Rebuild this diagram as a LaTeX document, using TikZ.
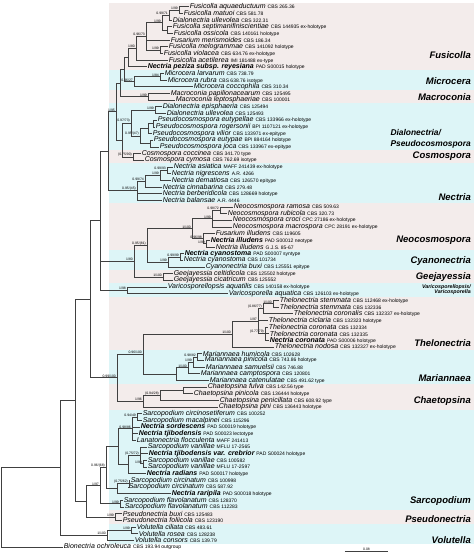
\documentclass[tikz,border=0pt]{standalone}
\usepackage{fontspec}
\setmainfont{Liberation Sans}
\usetikzlibrary{calc}
\definecolor{pinkb}{HTML}{F3ECEB}
\definecolor{cyanb}{HTML}{DDF5F7}
\definecolor{brc}{HTML}{404040}
\newcommand\acc[1]{{\fontsize{5}{5}\selectfont\upshape\mdseries #1}}
\newcommand\tx[2]{{\itshape #1}\hspace{2pt}\acc{#2}}
\newcommand\tb[2]{{\bfseries\itshape #1}\hspace{2pt}\acc{#2}}
\newcommand\nd[5]{\path let \p1=(#3), \p2=(#4) in coordinate (#1) at (#2pt,{0.5*\y1+0.5*\y2}); \node[sup] (l#1) at (#1) {#5};}
\newcommand\lf[3]{\node[leaf] (t#1) at (#2,#1) {#3};}
\newcommand\ed[2]{\foreach \c in {#2} {\draw[br] (#1) |- (\c);}}
\tikzset{
 leaf/.style={anchor=west, inner sep=0.6pt, font=\fontsize{7}{7}\selectfont},
 sup/.style={anchor=south east, inner sep=0.2pt, xshift=-0.8pt, font=\fontsize{3.4}{3.4}\selectfont},
 br/.style={draw=brc, line width=0.45pt},
 clade/.style={anchor=east, inner sep=0pt, font=\fontsize{9.5}{9.5}\selectfont\bfseries\itshape},
 cladesm/.style={anchor=east, inner sep=0pt, font=\fontsize{8.4}{8.4}\selectfont\bfseries\itshape}
}
\begin{document}
\begin{tikzpicture}[x=1pt, y=-6.67pt]
\useasboundingbox (0,0) rectangle (474,83.66);
% bands
\fill[pinkb] (109,0.5) rectangle (474,10.5);
\fill[cyanb] (109,10.5) rectangle (474,13.5);
\fill[pinkb] (109,13.5) rectangle (474,15.5);
\fill[cyanb] (109,15.5) rectangle (474,22.5);
\fill[pinkb] (109,22.5) rectangle (474,24.5);
\fill[cyanb] (109,24.5) rectangle (474,30.5);
\fill[pinkb] (109,30.5) rectangle (474,37.5);
\fill[cyanb] (109,37.5) rectangle (474,40.5);
\fill[pinkb] (109,40.5) rectangle (474,42.5);
\fill[cyanb] (109,42.5) rectangle (474,44.5);
\fill[pinkb] (109,44.5) rectangle (474,52.5);
\fill[cyanb] (109,52.5) rectangle (474,57.5);
\fill[pinkb] (109,57.5) rectangle (474,61.5);
\fill[cyanb] (109,61.5) rectangle (474,76.5);
\fill[pinkb] (109,76.5) rectangle (474,78.5);
\fill[cyanb] (109,78.5) rectangle (474,81.5);
% leaves
\lf{1}{189}{\tx{Fusicolla aquaeductuum}{CBS 265.36}}
\lf{2}{183}{\tx{Fusicolla matuoi}{CBS 581.78}}
\lf{3}{172}{\tx{Dialonectria ullevolea}{CBS 322.31}}
\lf{4}{172}{\tx{Fusicolla septimanifiniscientiae}{CBS 144935 ex-holotype}}
\lf{5}{173}{\tx{Fusicolla ossicola}{CBS 140161 holotype}}
\lf{6}{170}{\tx{Fusarium merismoides}{CBS 186.34}}
\lf{7}{168}{\tx{Fusicolla melogrammae}{CBS 141092 holotype}}
\lf{8}{163}{\tx{Fusicolla violacea}{CBS 634.76 ex-holotype}}
\lf{9}{168}{\tx{Fusicolla acetilerea}{IMI 181488 ex-type}}
\lf{10}{147}{\tb{Nectria peziza subsp. reyesiana}{PAD S00015 holotype}}
\lf{11}{164}{\tx{Microcera larvarum}{CBS 738.79}}
\lf{12}{167}{\tx{Microcera rubra}{CBS 638.76 isotype}}
\lf{13}{193}{\tx{Microcera coccophila}{CBS 310.34}}
\lf{14}{170}{\tx{Macroconia papilionacearum}{CBS 125495}}
\lf{15}{175}{\tx{Macroconia leptosphaeriae}{CBS 100001}}
\lf{16}{162}{\tx{Dialonectria episphaeria}{CBS 125494}}
\lf{17}{166}{\tx{Dialonectria ullevolea}{CBS 125493}}
\lf{18}{157}{\tx{Pseudocosmospora eutypellae}{CBS 133966 ex-holotype}}
\lf{19}{155}{\tx{Pseudocosmospora rogersonii}{BPI 1107121 ex-holotype}}
\lf{20}{152}{\tx{Pseudocosmospora vilior}{CBS 133971 ex-epitype}}
\lf{21}{153}{\tx{Pseudocosmospora eutypae}{BPI 884164 holotype}}
\lf{22}{159}{\tx{Pseudocosmospora joca}{CBS 133967 ex-epitype}}
\lf{23}{141}{\tx{Cosmospora coccinea}{CBS 341.70 type}}
\lf{24}{144}{\tx{Cosmospora cymosa}{CBS 762.69 isotype}}
\lf{25}{173}{\tx{Nectria asiatica}{MAFF 241439 ex-holotype}}
\lf{26}{171}{\tx{Nectria nigrescens}{A.R. 4266}}
\lf{27}{171}{\tx{Nectria dematiosa}{CBS 126570 epitype}}
\lf{28}{162}{\tx{Nectria cinnabarina}{CBS 279.48}}
\lf{29}{162}{\tx{Nectria berberidicola}{CBS 128669 holotype}}
\lf{30}{162}{\tx{Nectria balansae}{A.R. 4446}}
\lf{31}{233}{\tx{Neocosmospora ramosa}{CBS 509.63}}
\lf{32}{227}{\tx{Neocosmospora rubicola}{CBS 320.73}}
\lf{33}{232}{\tx{Neocosmospora croci}{CPC 27186 ex-holotype}}
\lf{34}{232}{\tx{Neocosmospora macrospora}{CPC 28191 ex-holotype}}
\lf{35}{215}{\tx{Fusarium illudens}{CBS 119605}}
\lf{36}{210}{\tb{Nectria illudens}{PAD S00012 neotype}}
\lf{37}{215}{\tx{Nectria illudens}{G.J.S. 85-67}}
\lf{38}{184}{\tb{Nectria cyanostoma}{PAD S00007 syntype}}
\lf{39}{183}{\tx{Nectria cyanostoma}{CBS 101734}}
\lf{40}{205}{\tx{Cyanonectria buxi}{CBS 125551 epitype}}
\lf{41}{173}{\tx{Geejayessia celtidicola}{CBS 125502 holotype}}
\lf{42}{173}{\tx{Geejayessia cicatricum}{CBS 125552}}
\lf{43}{167}{\tx{Varicosporellopsis aquatilis}{CBS 140158 ex-holotype}}
\lf{44}{228}{\tx{Varicosporella aquatica}{CBS 126103 ex-holotype}}
\lf{45}{279}{\tx{Thelonectria stemmata}{CBS 112468 ex-holotype}}
\lf{46}{279}{\tx{Thelonectria stemmata}{CBS 132336}}
\lf{47}{293}{\tx{Thelonectria coronalis}{CBS 132337 ex-holotype}}
\lf{48}{268}{\tx{Thelonectria ciclaria}{CBS 132323 holotype}}
\lf{49}{268}{\tx{Thelonectria coronata}{CBS 132334}}
\lf{50}{269}{\tx{Thelonectria coronata}{CBS 132335}}
\lf{51}{269}{\tb{Nectria coronata}{PAD S00006 holotype}}
\lf{52}{274}{\tx{Thelonectria nodosa}{CBS 132327 ex-holotype}}
\lf{53}{202}{\tx{Mariannaea humicola}{CBS 102628}}
\lf{54}{204}{\tx{Mariannaea pinicola}{CBS 743.86 holotype}}
\lf{55}{205}{\tx{Mariannaea samuelsii}{CBS 746.88}}
\lf{56}{200}{\tx{Mariannaea camptospora}{CBS 120801}}
\lf{57}{209}{\tx{Mariannaea catenulatae}{CBS 491.62 type}}
\lf{58}{207}{\tx{Chaetopsina fulva}{CBS 142.56 type}}
\lf{59}{193}{\tx{Chaetopsina pinicola}{CBS 136444 holotype}}
\lf{60}{219}{\tx{Chaetopsina penicillata}{CBS 608.92 type}}
\lf{61}{218}{\tx{Chaetopsina pini}{CBS 136443 holotype}}
\lf{62}{142}{\tx{Sarcopodium circinosetiferum}{CBS 100252}}
\lf{63}{142}{\tx{Sarcopodium macalpinei}{CBS 115296}}
\lf{64}{140}{\tb{Nectria sordescens}{PAD S00019 holotype}}
\lf{65}{138}{\tb{Nectria tjibodensis}{PAD S00023 lectotype}}
\lf{66}{136}{\tx{Lanatonectria flocculenta}{MAFF 241413}}
\lf{67}{147}{\tx{Sarcopodium vanillae}{MFLU 17-2565}}
\lf{68}{148}{\tb{Nectria tjibodensis var. crebrior}{PAD S00024 holotype}}
\lf{69}{147}{\tx{Sarcopodium vanillae}{CBS 100582}}
\lf{70}{147}{\tx{Sarcopodium vanillae}{MFLU 17-2597}}
\lf{71}{146}{\tb{Nectria radians}{PAD S00017 holotype}}
\lf{72}{130}{\tx{Sarcopodium circinatum}{CBS 100998}}
\lf{73}{128}{\tx{Sarcopodium circinatum}{CBS 587.92}}
\lf{74}{171}{\tb{Nectria raripila}{PAD S00018 holotype}}
\lf{75}{123}{\tx{Sarcopodium flavolanatum}{CBS 128370}}
\lf{76}{124}{\tx{Sarcopodium flavolanatum}{CBS 112283}}
\lf{77}{122}{\tx{Pseudonectria buxi}{CBS 125483}}
\lf{78}{122}{\tx{Pseudonectria foliicola}{CBS 123190}}
\lf{79}{136}{\tx{Volutella ciliata}{CBS 483.61}}
\lf{80}{138}{\tx{Volutella rosea}{CBS 128238}}
\lf{81}{134}{\tx{Volutella consors}{CBS 139.79}}
\lf{82}{63}{\tx{Bionectria ochroleuca}{CBS 193.94 outgroup}}
% internal nodes
\nd{fa}{179}{t1.west}{t2.west}{1/99} \ed{fa}{t1.west,t2.west}
\nd{fb}{169}{fa}{t3.west}{0.99/71} \ed{fb}{fa,t3.west}
\nd{fc}{167}{t4.west}{t5.west}{} \ed{fc}{t4.west,t5.west}
\nd{fd}{162}{fb}{fc}{1/99} \ed{fd}{fb,fc}
\nd{fg}{160}{t7.west}{t8.west}{1/99} \ed{fg}{t7.west,t8.west}
\nd{fe}{146}{fd}{fg}{0.96/73} \ed{fe}{fd,t6.west,fg}
\nd{ff}{136}{fe}{t9.west}{1/80} \ed{ff}{fe,t9.west}
\nd{F}{128}{ff}{t10.west}{} \ed{F}{ff,t10.west}
\nd{ma}{160}{t11.west}{t12.west}{1/84} \ed{ma}{t11.west,t12.west}
\nd{M}{134}{ma}{t13.west}{0.96/27} \ed{M}{ma,t13.west}
\nd{FM}{124}{F}{M}{} \ed{FM}{F,M}
\nd{mc}{148}{t14.west}{t15.west}{1/99} \ed{mc}{t14.west,t15.west}
\nd{FMM}{120}{FM}{mc}{} \ed{FMM}{FM,mc}
\nd{d1}{155}{t16.west}{t17.west}{1/99} \ed{d1}{t16.west,t17.west}
\nd{p1}{153}{t18.west}{t19.west}{} \ed{p1}{t18.west,t19.west}
\nd{p2}{148}{p1}{t20.west}{} \ed{p2}{p1,t20.west}
\nd{p3}{150}{t21.west}{t22.west}{} \ed{p3}{t21.west,t22.west}
\nd{pp}{140}{p2}{p3}{0.95/(47)} \ed{pp}{p2,p3}
\nd{DP}{131}{d1}{pp}{(0.97/73)} \ed{DP}{d1,pp}
\nd{cs}{133}{t23.west}{t24.west}{(0.75/90)} \ed{cs}{t23.west,t24.west}
\nd{DC}{122}{DP}{cs}{} \ed{DC}{DP,cs}
\nd{UP}{116}{FMM}{DC}{1/95} \ed{UP}{FMM,DC}
\nd{n1}{167}{t25.west}{t26.west}{0.99/93} \ed{n1}{t25.west,t26.west}
\nd{n2}{160}{n1}{t27.west}{1/99} \ed{n2}{n1,t27.west}
\nd{n3}{145}{n2}{t28.west}{0.99/74} \ed{n3}{n2,t28.west}
\nd{N}{137}{n3}{t30.west}{0.95/(45)} \ed{N}{n3,t29.west,t30.west}
\nd{UN}{108}{UP}{N}{} \ed{UN}{UP,N}
\nd{ne1}{220}{t31.west}{t32.west}{0.98/72} \ed{ne1}{t31.west,t32.west}
\nd{ne2}{212}{ne1}{t34.west}{1/99} \ed{ne2}{ne1,t33.west,t34.west}
\nd{ne3}{206}{t36.west}{t37.west}{1/99} \ed{ne3}{t36.west,t37.west}
\nd{ne4}{203}{t35.west}{ne3}{0.96/98} \ed{ne4}{t35.west,ne3}
\nd{Ne}{192}{ne2}{ne4}{1/100} \ed{Ne}{ne2,ne4}
\nd{cy1}{180}{t38.west}{t39.west}{0.99/99} \ed{cy1}{t38.west,t39.west}
\nd{Cy}{168}{cy1}{t40.west}{1/99} \ed{Cy}{cy1,t40.west}
\nd{NC}{147}{Ne}{Cy}{0.95/(81)} \ed{NC}{Ne,Cy}
\nd{gj}{163}{t41.west}{t42.west}{1/100} \ed{gj}{t41.west,t42.west}
\nd{NCG}{134}{NC}{gj}{1/80} \ed{NCG}{NC,gj}
\nd{va}{127}{t43.west}{t44.west}{1/98} \ed{va}{t43.west,t44.west}
\nd{A}{100}{UN}{va}{} \ed{A}{UN,NCG,va}
\nd{th1}{273}{t45.west}{t46.west}{1/100} \ed{th1}{t45.west,t46.west}
\nd{th2}{263}{th1}{t47.west}{(0.86/77)} \ed{th2}{th1,t47.west}
\nd{th4}{265}{t49.west}{t51.west}{(0.77/79)} \ed{th4}{t49.west,t50.west,t51.west}
\nd{th3}{258}{th2}{th4}{1/97} \ed{th3}{th2,t48.west,th4}
\nd{TH}{232}{th3}{t52.west}{1/100} \ed{TH}{th3,t52.west}
\nd{mr1}{197}{t53.west}{t54.west}{0.98/82} \ed{mr1}{t53.west,t54.west}
\nd{mr2}{193}{mr1}{t55.west}{1/99} \ed{mr2}{mr1,t55.west}
\nd{mr3}{188}{mr2}{t56.west}{1/100} \ed{mr3}{mr2,t56.west}
\nd{MA}{176}{mr3}{t57.west}{} \ed{MA}{mr3,t57.west}
\nd{TM}{143}{TH}{MA}{0.96/100} \ed{TM}{TH,MA}
\nd{ch1}{183}{t58.west}{t59.west}{} \ed{ch1}{t58.west,t59.west}
\nd{ch2}{160}{ch1}{t60.west}{(0.94/28)} \ed{ch2}{ch1,t60.west}
\nd{CH}{143}{ch2}{t61.west}{1/96} \ed{CH}{ch2,t61.west}
\nd{TMC}{117}{TM}{CH}{0.99/100} \ed{TMC}{TM,CH}
\nd{U}{90}{A}{TMC}{} \ed{U}{A,TMC}
\nd{s1}{137}{t62.west}{t63.west}{0.94/49} \ed{s1}{t62.west,t63.west}
\nd{s2}{132}{s1}{t66.west}{0.98/86} \ed{s2}{s1,t64.west,t65.west,t66.west}
\nd{s4}{143}{t69.west}{t70.west}{1/99} \ed{s4}{t69.west,t70.west}
\nd{s5}{140}{t67.west}{s4}{(0.75/72)} \ed{s5}{t67.west,t68.west,s4}
\nd{s6}{128}{s5}{t71.west}{} \ed{s6}{s5,t71.west}
\nd{s10}{118}{s2}{s6}{} \ed{s10}{s2,s6}
\nd{s7}{129}{t72.west}{t73.west}{(0.75/62)} \ed{s7}{t72.west,t73.west}
\nd{s8}{117}{s7}{t74.west}{} \ed{s8}{s7,t74.west}
\nd{s11}{106}{s10}{s8}{0.96/(68)} \ed{s11}{s10,s8}
\nd{s9}{120}{t75.west}{t76.west}{1/99} \ed{s9}{t75.west,t76.west}
\nd{S}{100}{s11}{s9}{1/97} \ed{S}{s11,s9}
\nd{pn}{115}{t77.west}{t78.west}{1/99} \ed{pn}{t77.west,t78.west}
\nd{P}{86}{S}{pn}{} \ed{P}{S,pn}
\nd{I1}{75}{U}{P}{} \ed{I1}{U,P}
\nd{vo1}{131}{t79.west}{t80.west}{1/99} \ed{vo1}{t79.west,t80.west}
\nd{V}{107}{vo1}{t81.west}{1/100} \ed{V}{vo1,t81.west}
\nd{I0}{60}{I1}{V}{} \ed{I0}{I1,V}
\nd{R}{1}{I0}{t82.west}{} \ed{R}{I0,t82.west}
% clade labels
\node[clade] (cF) at (471,8.2) {Fusicolla};
\node[clade] (cMi) at (471,12.1) {Microcera};
\node[clade] (cMa) at (471,14.5) {Macroconia};
\node[cladesm] (cD2) at (471,21.6) {Pseudocosmospora};
\node[cladesm, anchor=west] (cD1) at (cD2.west |- 0,19.9) {Dialonectria/};
\node[clade] (cCo) at (471,23.4) {Cosmospora};
\node[clade] (cNe) at (471,29.5) {Nectria};
\node[clade] (cNeo) at (471,36) {Neocosmospora};
\node[clade] (cCy) at (471,39.2) {Cyanonectria};
\node[clade] (cGe) at (471,41.5) {Geejayessia};
\node[clade, font=\fontsize{5.3}{5.3}\selectfont\bfseries\itshape] (cV1) at (471,43.05) {Varicosporellopsis/};
\node[clade, font=\fontsize{5.3}{5.3}\selectfont\bfseries\itshape] (cV2) at (471,43.85) {Varicosporella};
\node[clade] (cTh) at (471,51.4) {Thelonectria};
\node[clade] (cMar) at (471,56.7) {Mariannaea};
\node[clade] (cCh) at (471,60.2) {Chaetopsina};
\node[clade] (cSa) at (471,75.1) {Sarcopodium};
\node[clade] (cPs) at (471,77.8) {Pseudonectria};
\node[clade] (cVo) at (471,81) {Volutella};
% scale bar
\coordinate (sb1) at (345,82.6);
\coordinate (sb2) at (388,82.6);
\draw[br] (sb1) -- (sb2);
\node[font=\fontsize{3.4}{3.4}\selectfont, anchor=south, inner sep=0.5pt] (sbl) at ($(sb1)!0.5!(sb2)$) {0.08};
\end{tikzpicture}
\end{document}
